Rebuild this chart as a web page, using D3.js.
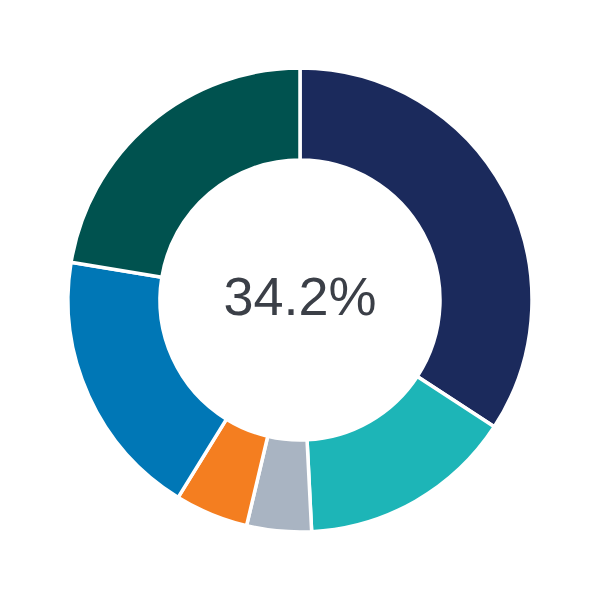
<!DOCTYPE html>
<html>
<head>
<meta charset="utf-8">
<script src="https://cdn.jsdelivr.net/npm/d3@7"></script>
<style>
  body { margin: 0; background: #fff; }
</style>
</head>
<body>
<div id="chart"></div>
<script>
const categories = ["Segment A", "Segment B", "Segment C", "Segment D", "Segment E", "Segment F"]
const values = [34.2, 15.0, 4.5, 5.1, 18.8, 22.4]
const colors = ["#1b2a5c", "#1db5b7", "#a9b4c2", "#f47e20", "#0077b6", "#00524f"]
const centerLabel = "34.2%"

const width = 600
const height = 600
const outerR = 232
const innerR = 140

const svg = d3.select("div#chart").append("svg").attr("width", width).attr("height", height)

const g = svg.append("g").attr("transform", `translate(${width / 2}, ${height / 2})`)

const data = categories.map((c, i) => ({ name: c, value: values[i], color: colors[i] }))

const pie = d3.pie().value(d => d.value).sort(null)
const arc = d3.arc().innerRadius(innerR).outerRadius(outerR)

g.selectAll("path")
    .data(pie(data))
    .join("path")
    .attr("d", arc)
    .attr("fill", d => d.data.color)
    .attr("stroke", "#fff")
    .attr("stroke-width", 3.5)
    .attr("stroke-linejoin", "miter")

g.append("text")
    .attr("x", 0)
    .attr("y", 15)
    .attr("text-anchor", "middle")
    .attr("font-family", "Liberation Sans, Arial, sans-serif")
    .attr("font-size", 54)
    .attr("fill", "#3b3f47")
    .text(centerLabel)
</script>
</body>
</html>
